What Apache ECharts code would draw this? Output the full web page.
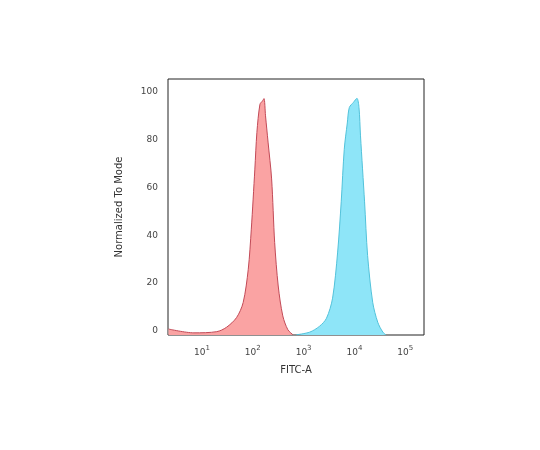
<!DOCTYPE html>
<html><head><meta charset="utf-8">
<script src="https://cdn.jsdelivr.net/npm/echarts@6/dist/echarts.min.js"></script>
<style>html,body{margin:0;background:#fff}#c{width:540px;height:450px}</style>
</head><body><div id="c"></div>
<script>
// x values are log10(FITC-A)
const isoX = [0.34, 0.84, 1.29, 1.48, 1.68, 1.81, 1.91, 1.97, 2.04, 2.08, 2.14, 2.19, 2.22, 2.25, 2.30, 2.37, 2.43, 2.50, 2.59, 2.69, 2.79];
const isoY = [0.8, -0.8, -0.3, 1.5, 5.6, 11.9, 25.8, 42.6, 67.7, 83, 94.8, 96.2, 97.2, 90, 79, 63.6, 37, 18.8, 6.3, 0.5, -1.6];
const posX = [2.86, 3.12, 3.31, 3.45, 3.57, 3.67, 3.74, 3.80, 3.86, 3.90, 3.98, 4.05, 4.09, 4.12, 4.20, 4.26, 4.36, 4.46, 4.56, 4.62];
const posY = [-1.6, -0.5, 1.9, 5.3, 13.7, 33, 54, 76, 87, 93.5, 95.6, 97.3, 93.5, 81.6, 54, 31.5, 12, 3.6, -0.5, -1.6];
const xTicks = [1, 2, 3, 4, 5];
const yTicks = [0, 20, 40, 60, 80, 100];

const pairs = (xs, ys) => xs.map((x, i) => [x, ys[i]]);
const chart = echarts.init(document.getElementById('c'));
chart.setOption({
  animation: false,
  grid: { left: 168, top: 79, width: 256, height: 256, show: true, borderColor: '#222', borderWidth: 1 },
  xAxis: {
    type: 'value', min: 0.33, max: 5.37,
    name: 'FITC-A', nameLocation: 'middle', nameGap: 30,
    nameTextStyle: { color: '#333', fontSize: 10, fontFamily: 'DejaVu Sans' },
    axisLine: { show: false }, axisTick: { show: false }, splitLine: { show: false },
    axisLabel: {
      customValues: xTicks, margin: 10,
      formatter: v => '{b|10}{s|' + v + '}',
      rich: { b: { fontSize: 9, color: '#444', fontFamily: 'DejaVu Sans' },
              s: { fontSize: 7, color: '#444', verticalAlign: 'bottom', padding: [0, 0, 8, 0], fontFamily: 'DejaVu Sans' } }
    }
  },
  yAxis: {
    type: 'value', min: -1.7, max: 105.4,
    name: 'Normalized To Mode', nameLocation: 'middle', nameGap: 44,
    nameTextStyle: { color: '#333', fontSize: 10, fontFamily: 'DejaVu Sans' },
    axisLine: { show: false }, axisTick: { show: false }, splitLine: { show: false },
    axisLabel: { customValues: yTicks, color: '#444', fontSize: 9, margin: 10, fontFamily: 'DejaVu Sans' }
  },
  series: [
    { type: 'line', data: pairs(isoX, isoY), smooth: 0.3, symbol: 'none',
      lineStyle: { color: '#c24a57', width: 1 }, areaStyle: { color: '#faa3a3', opacity: 1, origin: 'start' } },
    { type: 'line', data: pairs(posX, posY), smooth: 0.3, symbol: 'none',
      lineStyle: { color: '#52c2da', width: 1 }, areaStyle: { color: '#8ee5f8', opacity: 1, origin: 'start' } }
  ]
});
</script></body></html>
